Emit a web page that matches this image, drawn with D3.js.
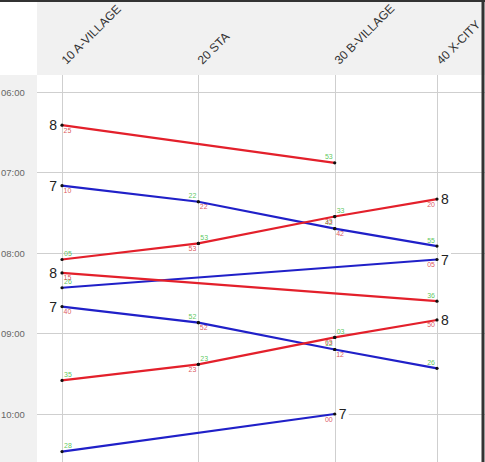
<!DOCTYPE html>
<html><head><meta charset="utf-8">
<script src="https://cdn.jsdelivr.net/npm/d3@7/dist/d3.min.js"></script>
<style>html,body{margin:0;padding:0;background:#fff;overflow:hidden}</style>
</head><body>
<script>
// ---- data ----
const stations = ["10 A-VILLAGE", "20 STA", "30 B-VILLAGE", "40 X-CITY"];
const stationKm = [0, 12, 24, 33];
const hourTicks = ["06:00", "07:00", "08:00", "09:00", "10:00"];
const trainNumbers = ["8", "7", "8", "7", "8", "7", "8", "7"];
// stops: [stationIndex, arrival, departure]
const train1 = [[0, null, "06:25"], [2, "06:53", null]];
const train2 = [[0, null, "07:10"], [1, "07:22", "07:22"], [2, "07:42", "07:42"], [3, "07:55", null]];
const train3 = [[3, null, "07:20"], [2, "07:33", "07:33"], [1, "07:53", "07:53"], [0, "08:05", null]];
const train4 = [[3, null, "08:05"], [0, "08:26", null]];
const train5 = [[0, null, "08:15"], [3, "08:36", null]];
const train6 = [[0, null, "08:40"], [1, "08:52", "08:52"], [2, "09:12", "09:12"], [3, "09:26", null]];
const train7 = [[3, null, "08:50"], [2, "09:03", "09:03"], [1, "09:23", "09:23"], [0, "09:35", null]];
const train8 = [[2, null, "10:00"], [0, "10:28", null]];
const trainStops = [train1, train2, train3, train4, train5, train6, train7, train8];

// ---- layout ----
const W = 485, H = 462;
const headerH = 75, leftW = 37;
const toMin = s => { const [h, m] = s.split(":").map(Number); return h * 60 + m; };
const x = d3.scaleLinear().domain([0, 33]).range([62, 437]);
const y = d3.scaleLinear().domain([360, 600]).range([91.6, 414]);
const FONT = "'Liberation Sans', Arial, sans-serif";
const colorFor = n => (+n % 2 === 0) ? "#e3202b" : "#2020c8";

const svg = d3.select("body").append("svg").attr("width", W).attr("height", H)
  .style("font-family", FONT);

// backgrounds
svg.append("rect").attr("x", 0).attr("y", 0).attr("width", W).attr("height", H).attr("fill", "#fff");
svg.append("rect").attr("x", leftW).attr("y", 0).attr("width", W - leftW).attr("height", headerH).attr("fill", "#f1f1f1");
svg.append("rect").attr("x", 0).attr("y", headerH).attr("width", leftW).attr("height", H - headerH).attr("fill", "#f1f1f1");

// grid: hours
const hourG = svg.append("g");
hourTicks.forEach(t => {
  const yy = Math.round(y(toMin(t))) + 0.5;
  hourG.append("line").attr("x1", leftW).attr("x2", W).attr("y1", yy).attr("y2", yy)
    .attr("stroke", "#cfcfcf").attr("stroke-width", 1);
  hourG.append("text").attr("x", 1).attr("y", yy).attr("dy", "0.35em")
    .attr("font-size", 9.5).attr("fill", "#666").text(t);
});
// grid: stations
stations.forEach((s, i) => {
  const xx = Math.round(x(stationKm[i])) + 0.5;
  svg.append("line").attr("x1", xx).attr("x2", xx).attr("y1", headerH).attr("y2", H)
    .attr("stroke", "#cfcfcf").attr("stroke-width", 1);
  svg.append("text").attr("transform", `translate(${xx + 4},${headerH - 10}) rotate(-45)`)
    .attr("font-size", 12).attr("fill", "#333").text(s);
});

// trains
const line = d3.line().x(d => d.x).y(d => d.y);
const labelG = svg.append("g");
trainStops.forEach((stops, ti) => {
  const num = trainNumbers[ti];
  const col = colorFor(num);
  const south = stops[0][0] < stops[stops.length - 1][0];
  const pts = [];
  const marks = [];
  stops.forEach(([si, arr, dep]) => {
    const xx = x(stationKm[si]);
    if (arr) { const p = { x: xx, y: y(toMin(arr)) }; pts.push(p); marks.push({ ...p, t: arr, kind: "arr" }); }
    if (dep) {
      const p = { x: xx, y: y(toMin(dep)) };
      if (!arr || dep !== arr) pts.push(p);
      marks.push({ ...p, t: dep, kind: "dep" });
    }
  });
  svg.append("path").attr("d", line(pts)).attr("fill", "none").attr("stroke", col).attr("stroke-width", 2.2);
  marks.forEach(m => {
    svg.append("circle").attr("cx", m.x).attr("cy", m.y).attr("r", 1.6).attr("fill", "#111");
    const mm = m.t.split(":")[1];
    let ax, anchor, by;
    if (m.kind === "arr") {
      by = m.y - 3.5;
      if (south) { ax = m.x - 2; anchor = "end"; } else { ax = m.x + 2; anchor = "start"; }
    } else {
      by = m.y + 7.5;
      if (south) { ax = m.x + 1.5; anchor = "start"; } else { ax = m.x - 2; anchor = "end"; }
    }
    labelG.append("text").attr("x", ax).attr("y", by).attr("text-anchor", anchor)
      .attr("font-size", 7).attr("fill", m.kind === "arr" ? "#4cbf4c" : "#d8444c")
      .attr("fill-opacity", 0.9).text(mm);
  });
  // train number label at origin
  const o = pts[0];
  const g = labelG.append("g");
  const tx = south ? o.x - 5 : o.x + 4;
  const txt = g.append("text").attr("x", tx).attr("y", o.y).attr("dy", "0.36em")
    .attr("text-anchor", south ? "end" : "start").attr("font-size", 14).attr("fill", "#222").text(num);
  const bb = txt.node().getBBox();
  g.insert("rect", "text").attr("x", bb.x - 2).attr("y", bb.y - 1).attr("width", bb.width + 4)
    .attr("height", bb.height + 2).attr("fill", "#fff");
});

// frame
svg.append("line").attr("x1", 0).attr("x2", W).attr("y1", 1).attr("y2", 1).attr("stroke", "#333").attr("stroke-width", 2);
svg.append("line").attr("x1", W - 2).attr("x2", W - 2).attr("y1", 0).attr("y2", H).attr("stroke", "#333").attr("stroke-width", 3);
</script>
</body></html>
